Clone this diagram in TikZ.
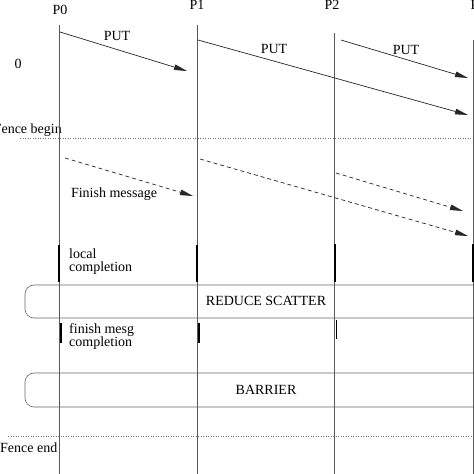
\documentclass[tikz,border=0pt]{standalone}
\usepackage{fontspec}
\setmainfont{Liberation Serif}
\usetikzlibrary{arrows.meta}
\begin{document}
\begin{tikzpicture}[x=1pt,y=-1pt,
  every node/.style={font=\fontsize{14}{13}\selectfont, inner sep=0pt},
  proc/.style={draw=black!65, line width=0.6pt},
  msg/.style={draw=black!85, line width=0.7pt, -{Triangle[length=13pt,width=5.5pt]}},
  fin/.style={msg, dashed, dash pattern=on 4pt off 3pt},
  fence/.style={draw=black!55, line width=0.5pt, dotted},
  collbox/.style={draw=black!60, line width=0.6pt, rounded corners=9pt},
  bar/.style={draw=black, line width=2pt},
  sbar/.style={draw=black, line width=1.6pt},
  txt/.style={align=left, anchor=west}]
\useasboundingbox (0,0) rectangle (474,474);
\clip (0,0) rectangle (474,474);
% collective boxes
\draw[collbox] (25,285) rectangle (500,318);
\node (rs) at (266,301) {REDUCE SCATTER};
\draw[collbox] (25,373) rectangle (500,407);
\node (bar) at (266,390) {BARRIER};
% fences
\coordinate (fb1) at (20,138); \coordinate (fb2) at (474,138);
\draw[fence] (fb1) -- (fb2);
\coordinate (fe1) at (8,436); \coordinate (fe2) at (474,436);
\draw[fence] (fe1) -- (fe2);
\node[anchor=east] (fbl) at (62,130) {Fence begin};
\node[anchor=west] (fel) at (0,448) {Fence end};
\node (zero) at (18,64) {0};
% processes
\node (P0) at (60,10) {P0};
\node (P1) at (197,5) {P1};
\node (P2) at (332,5) {P2};
\node (P3) at (478,5) {P3};
\coordinate (p0t) at (59,25);  \coordinate (p0b) at (59,474);
\coordinate (p1t) at (197,25); \coordinate (p1b) at (197,474);
\coordinate (p2t) at (334.5,33); \coordinate (p2b) at (334.5,474);
\coordinate (p3t) at (473,40); \coordinate (p3b) at (473,474);
\draw[proc] (p0t) -- (p0b);
\draw[proc] (p1t) -- (p1b);
\draw[proc] (p2t) -- (p2b);
\draw[proc] (p3t) -- (p3b);
% PUT messages
\coordinate (a1s) at (60,32);   \coordinate (a1e) at (187,71);
\coordinate (a2s) at (198,40);  \coordinate (a2e) at (468,115);
\coordinate (a3s) at (341,40);  \coordinate (a3e) at (468,78);
\draw[msg] (a1s) -- (a1e);
\draw[msg] (a2s) -- (a2e);
\draw[msg] (a3s) -- (a3e);
\node (put1) at (117,36) {PUT};
\node (put2) at (274,49) {PUT};
\node (put3) at (406,50) {PUT};
% finish messages
\coordinate (f1s) at (65,158);  \coordinate (f1e) at (193,196);
\coordinate (f2s) at (200,159); \coordinate (f2e) at (468,236);
\coordinate (f3s) at (336,173); \coordinate (f3e) at (463,211);
\draw[fin] (f1s) -- (f1e);
\draw[fin] (f2s) -- (f2e);
\draw[fin] (f3s) -- (f3e);
\node (finmsg) at (114,194) {Finish message};
% local completion bars
\draw[bar] (59,245) -- (59,282);
\draw[bar] (197,245) -- (197,282);
\draw[bar] (334.5,244) -- (334.5,282);
\draw[bar] (473,244) -- (473,282);
\node[txt] (lc) at (69,262) {local\\completion};
% finish mesg completion bars
\draw[sbar] (61,323) -- (61,343);
\draw[sbar] (199,323) -- (199,343);
\draw[sbar] (336.5,320) -- (336.5,339);
\node[txt] (fmc) at (69,337) {finish mesg\\completion};
\end{tikzpicture}
\end{document}
